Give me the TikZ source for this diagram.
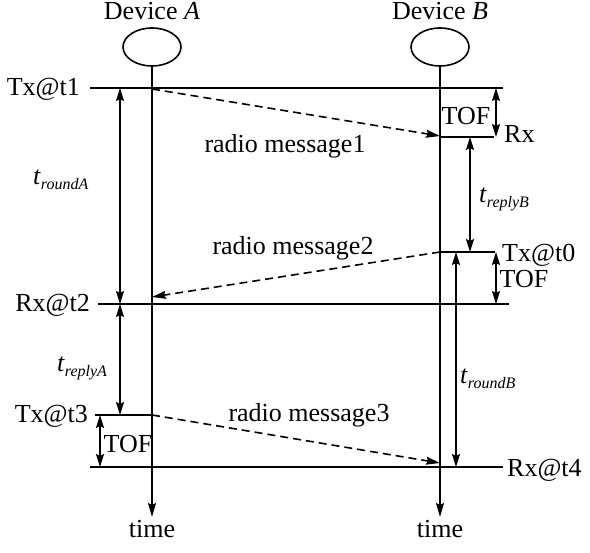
\documentclass[tikz,border=0pt]{standalone}
\usepackage{fontspec}
\setmainfont{Liberation Serif}
\usetikzlibrary{arrows.meta,shapes.geometric}
\newcommand{\tsub}[1]{\textit{t}\raisebox{-0.4ex}{\fontsize{16}{16}\selectfont\textit{#1}}}

\begin{document}
\begin{tikzpicture}[x=1pt,y=-1pt,
	txt/.style={font=\fontsize{26}{29}\selectfont,inner sep=0pt},
	line/.style={line width=1.8pt},
	tip/.style={-{Stealth[length=14pt,width=8pt,inset=2pt]}},
	dbl/.style={line width=1.6pt,{Stealth[length=13pt,width=8pt,inset=2pt]}-{Stealth[length=13pt,width=8pt,inset=2pt]}},
	msg/.style={line width=1.6pt,dash pattern=on 8pt off 5pt,-{Stealth[length=14pt,width=8pt,inset=2pt]}},
	dev/.style={draw,ellipse,line width=1.6pt,minimum width=58pt,minimum height=38pt}]
	\useasboundingbox (0,0) rectangle (590,553);

	%columns and rows
	\coordinate (xA) at (152,0);   %axis of device A
	\coordinate (xB) at (440,0);   %axis of device B
	\coordinate (xRA) at (120,0);
	\coordinate (xTA) at (100,0);
	\coordinate (xRB) at (470,0);
	\coordinate (xDB) at (456,0);
	\coordinate (xTB) at (496,0);
	\coordinate (yT1) at (0,88);
	\coordinate (yRx) at (0,137);
	\coordinate (yT0) at (0,252);
	\coordinate (yT2) at (0,304);
	\coordinate (yT3) at (0,415);
	\coordinate (yT4) at (0,467);

	%Device A
	\node[txt,anchor=base] (labA) at (152,20) {Device \textit{A}};
	\node[dev] (devA) at (152,47) {};
	\coordinate (endA) at (152,517);
	\draw[line,tip] (devA.south) -- (endA);
	\node[txt,anchor=base] (timeA) at (152,538) {time};

	%Device B
	\node[txt,anchor=base] (labB) at (440,20) {Device \textit{B}};
	\node[dev] (devB) at (440,47) {};
	\coordinate (endB) at (440,517);
	\draw[line,tip] (devB.south) -- (endB);
	\node[txt,anchor=base] (timeB) at (440,538) {time};

	%time lines
	\coordinate (t1L) at (90,88);  \coordinate (t1R) at (503,88);
	\coordinate (rxR) at (494,137);
	\coordinate (t0R) at (495,252);
	\coordinate (t2L) at (98,304); \coordinate (t2R) at (509,304);
	\coordinate (t3L) at (95,415);
	\coordinate (t4L) at (90,467); \coordinate (t4R) at (503,467);
	\draw[line] (t1L) -- (t1R);
	\draw[line] (xB |- yRx) -- (rxR);
	\draw[line] (xB |- yT0) -- (t0R);
	\draw[line] (t2L) -- (t2R);
	\draw[line] (t3L) -- (xA |- yT3);
	\draw[line] (t4L) -- (t4R);
	\node[txt,anchor=base east] (tx1) at (80,96) {Tx@t1};
	\node[txt,anchor=base west] (rx) at (504,143) {Rx};
	\node[txt,anchor=base west] (tx0) at (502,262) {Tx@t0};
	\node[txt,anchor=base east] (rx2) at (90,312) {Rx@t2};
	\node[txt,anchor=base east] (tx3) at (88,423) {Tx@t3};
	\node[txt,anchor=base west] (rx4) at (507,477) {Rx@t4};

	%radio messages
	\coordinate (m1s) at (152,89); \coordinate (m1e) at (440,136);
	\coordinate (m2e) at (152,297);
	\coordinate (m3e) at (440,463);
	\draw[msg] (m1s) -- (m1e);
	\draw[msg] (xB |- yT0) -- (m2e);
	\draw[msg] (xA |- yT3) -- (m3e);
	\node[txt,anchor=base] (msg1) at (285,153) {radio message1};
	\node[txt,anchor=base] (msg2) at (293,255) {radio message2};
	\node[txt,anchor=base] (msg3) at (309,422) {radio message3};

	%intervals
	\draw[dbl] (xRA |- yT1) -- (xRA |- yT2);
	\draw[dbl] (xRA |- yT2) -- (xRA |- yT3);
	\draw[dbl] (xTA |- yT3) -- (xTA |- yT4);
	\draw[dbl] (xTB |- yT1) -- (xTB |- yRx);
	\draw[dbl] (xRB |- yRx) -- (xRB |- yT0);
	\draw[dbl] (xTB |- yT0) -- (xTB |- yT2);
	\draw[dbl] (xDB |- yT0) -- (xDB |- yT4);
	\node[txt,anchor=base west] (rndA) at (33,185) {\tsub{roundA}};
	\node[txt,anchor=base west] (repA) at (57,372) {\tsub{replyA}};
	\node[txt,anchor=base west] (repB) at (479,203) {\tsub{replyB}};
	\node[txt,anchor=base west] (rndB) at (460,384) {\tsub{roundB}};
	\node[txt,anchor=base] (tofB1) at (466,125) {TOF};
	\node[txt,anchor=base] (tofB2) at (524,288) {TOF};
	\node[txt,anchor=base] (tofA) at (128,453) {TOF};

\end{tikzpicture}
\end{document}
